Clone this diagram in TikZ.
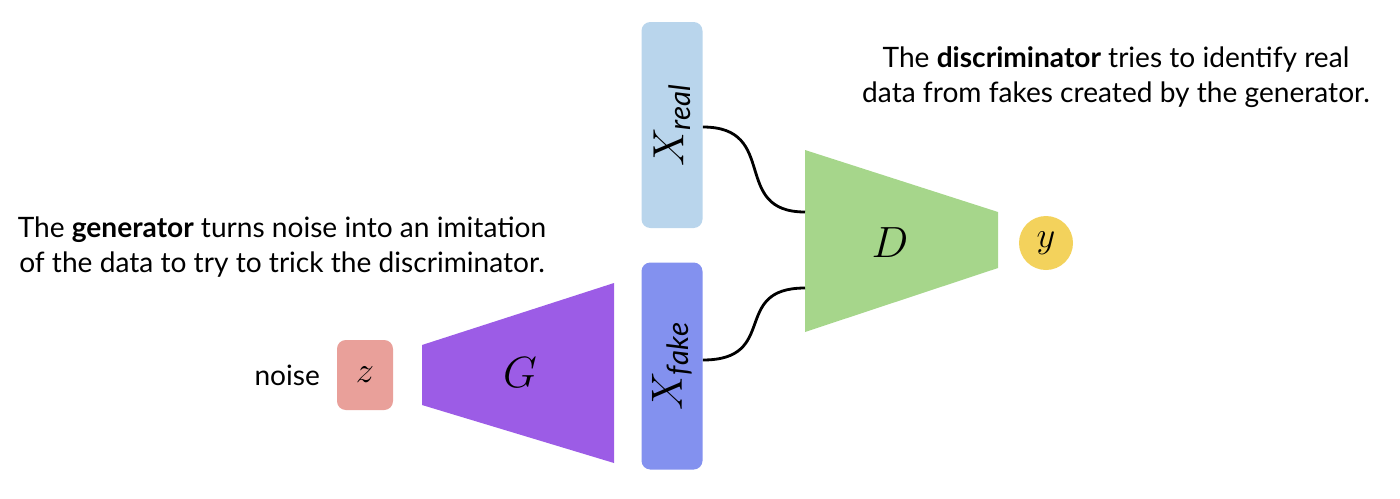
\documentclass[tikz,border=0pt]{standalone}
\usepackage{fontspec}
\setmainfont{Lato}
\usetikzlibrary{positioning}
\definecolor{zred}{HTML}{E9A09A}
\definecolor{gpurple}{HTML}{9C5CE6}
\definecolor{fakeblue}{HTML}{8391EF}
\definecolor{realblue}{HTML}{B9D5EC}
\definecolor{dgreen}{HTML}{A6D68B}
\definecolor{yyellow}{HTML}{F3D25C}
\tikzset{
  box/.style={rectangle, rounded corners=5pt, inner sep=0pt},
  txt/.style={font=\fontsize{16}{20}\selectfont, align=center},
  lbl/.style={font=\fontsize{24}{28}\selectfont},
  wire/.style={line width=1.6pt, black}
}
\begin{document}
\begin{tikzpicture}[x=0.02cm, y=-0.02cm]
\useasboundingbox (0,0) rectangle (1400,498);

% inputs
\node [box, fill=zred, minimum width=56*0.02cm, minimum height=70*0.02cm] (z) at (365,375) {\fontsize{22}{26}\selectfont$z$};
\node [txt, left=6pt of z] (noise) {noise};

% generator
\fill [gpurple] (422,345) -- (614,283) -- (614,463) -- (422,405) -- cycle;
\node [lbl] (G) at (520,373) {$G$};

% samples
\node [box, fill=fakeblue, minimum width=61*0.02cm, minimum height=207*0.02cm] (fake) at (672,366) {};
\node [lbl, rotate=90] at (fake) {$X_{\mathit{fake}}$};
\node [box, fill=realblue, minimum width=61*0.02cm, minimum height=206*0.02cm] (real) at (672,125) {};
\node [lbl, rotate=90] at (real) {$X_{\mathit{real}}$};

% discriminator
\fill [dgreen] (805,150) -- (998,212) -- (998,268) -- (805,332) -- cycle;
\coordinate (Din1) at (805,212);
\coordinate (Din2) at (805,288);
\node [lbl] (D) at (890,243) {$D$};
\node [circle, fill=yyellow, minimum size=54*0.02cm, inner sep=0pt] (y) at (1046,243) {\fontsize{22}{26}\selectfont$y$};

% wires
\draw [wire] (real.east |- 0,127) .. controls (780,127) and (730,212) .. (Din1);
\draw [wire] (fake.east |- 0,360) .. controls (780,360) and (730,288) .. (Din2);

% captions
\node [txt] (dtext) at (1116,77) {The \textbf{discriminator} tries to identify real\\data from fakes created by the generator.};
\node [txt] (gtext) at (282,247) {The \textbf{generator} turns noise into an imitation\\of the data to try to trick the discriminator.};
\end{tikzpicture}
\end{document}
